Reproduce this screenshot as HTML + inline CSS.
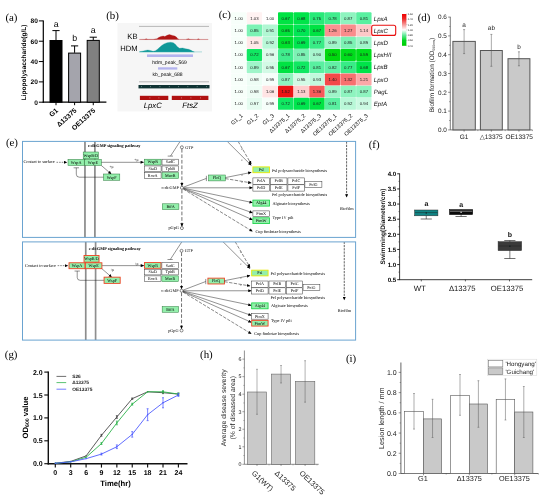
<!DOCTYPE html>
<html lang="en"><head><meta charset="utf-8"><title>Figure</title>
<style>
html,body{margin:0;padding:0;background:#fff;}
body{width:550px;height:502px;overflow:hidden;}
svg{display:block;}
text{text-rendering:geometricPrecision;}
.ss{font-family:"Liberation Sans",Arial,sans-serif;}
.sf{font-family:"Liberation Serif","Times New Roman",serif;}
</style></head><body>
<svg width="550" height="502" viewBox="0 0 550 502">
<rect x="0" y="0" width="550" height="502" fill="#fff"/>
<g id="panel-a">
<text class="sf" x="5.4" y="21.2" font-size="10.9">(a)</text>
<line x1="43.3" y1="20.4" x2="43.3" y2="102.7" stroke="#000" stroke-width="1.2"/>
<line x1="42.699999999999996" y1="102.2" x2="106.4" y2="102.2" stroke="#000" stroke-width="1.2"/>
<line x1="38.9" y1="20.9" x2="43.3" y2="20.9" stroke="#000" stroke-width="1"/>
<text class="ss" x="37.9" y="23.25" font-size="6.6" text-anchor="end" font-weight="bold">80</text>
<line x1="38.9" y1="41.225" x2="43.3" y2="41.225" stroke="#000" stroke-width="1"/>
<text class="ss" x="37.9" y="43.575" font-size="6.6" text-anchor="end" font-weight="bold">60</text>
<line x1="38.9" y1="61.550000000000004" x2="43.3" y2="61.550000000000004" stroke="#000" stroke-width="1"/>
<text class="ss" x="37.9" y="63.900000000000006" font-size="6.6" text-anchor="end" font-weight="bold">40</text>
<line x1="38.9" y1="81.875" x2="43.3" y2="81.875" stroke="#000" stroke-width="1"/>
<text class="ss" x="37.9" y="84.225" font-size="6.6" text-anchor="end" font-weight="bold">20</text>
<line x1="38.9" y1="102.20000000000002" x2="43.3" y2="102.20000000000002" stroke="#000" stroke-width="1"/>
<text class="ss" x="37.9" y="104.55000000000001" font-size="6.6" text-anchor="end" font-weight="bold">0</text>
<line x1="56.0" y1="30.6" x2="56.0" y2="40.2" stroke="#000" stroke-width="1"/>
<line x1="52.4" y1="30.6" x2="59.6" y2="30.6" stroke="#000" stroke-width="1"/>
<rect x="50.00" y="40.50" width="12.00" height="61.70" fill="#000" stroke="#000" stroke-width="1"/>
<line x1="56.0" y1="102.2" x2="56.0" y2="105.2" stroke="#000" stroke-width="1"/>
<line x1="74.6" y1="45.9" x2="74.6" y2="52.8" stroke="#000" stroke-width="1"/>
<line x1="71.0" y1="45.9" x2="78.19999999999999" y2="45.9" stroke="#000" stroke-width="1"/>
<rect x="68.60" y="53.10" width="12.00" height="49.10" fill="#a4a4ac" stroke="#000" stroke-width="1"/>
<line x1="74.6" y1="102.2" x2="74.6" y2="105.2" stroke="#000" stroke-width="1"/>
<line x1="93.25" y1="37.2" x2="93.25" y2="40.1" stroke="#000" stroke-width="1"/>
<line x1="89.65" y1="37.2" x2="96.85" y2="37.2" stroke="#000" stroke-width="1"/>
<rect x="87.20" y="40.40" width="12.10" height="61.80" fill="#808080" stroke="#000" stroke-width="1"/>
<line x1="93.25" y1="102.2" x2="93.25" y2="105.2" stroke="#000" stroke-width="1"/>
<text class="ss" x="56.1" y="26.9" font-size="8.8" text-anchor="middle">a</text>
<text class="ss" x="74.7" y="40.6" font-size="8.8" text-anchor="middle">b</text>
<text class="ss" x="93.3" y="33.0" font-size="8.8" text-anchor="middle">a</text>
<text class="ss" x="58.6" y="111.2" font-size="6.9" text-anchor="end" font-weight="bold" transform="rotate(-42 58.6 111.2)">G1</text>
<text class="ss" x="77.19999999999999" y="111.2" font-size="6.9" text-anchor="end" font-weight="bold" transform="rotate(-42 77.19999999999999 111.2)">&#916;13375</text>
<text class="ss" x="95.8" y="111.2" font-size="6.9" text-anchor="end" font-weight="bold" transform="rotate(-42 95.8 111.2)">OE13375</text>
<text class="ss" x="25.8" y="62.4" font-size="6.55" text-anchor="middle" font-weight="bold" transform="rotate(-90 25.8 62.4)">Lipopolysaccharide(g/L)</text>
</g>
<g id="panel-b">
<text class="sf" x="106.2" y="18.9" font-size="10.9">(b)</text>
<rect x="117.50" y="23.00" width="94.50" height="88.40" fill="#f6f6f6" stroke="none" stroke-width="1"/>
<line x1="139" y1="26.4" x2="209" y2="26.4" stroke="#8c8c8c" stroke-width="0.6"/>
<text class="ss" x="137.5" y="38.5" font-size="7.6" text-anchor="end">KB</text>
<text class="ss" x="137.5" y="51" font-size="7.6" text-anchor="end">HDM</text>
<path d="M139.3,39.55 L139.3,39.4 L144.7,39.3 L146.2,38.7 L147.8,39.3 L153.2,39.3 L154.7,39.0 L157.0,38.7 L158.6,37.4 L160.9,36.5 L163.2,36.0 L164.8,36.4 L167.1,35.3 L169.4,34.5 L171.0,35.0 L172.5,35.4 L174.8,36.0 L176.4,37.1 L177.6,38.4 L179.1,39.4 L185.6,39.4 L188.4,38.7 L190.0,39.3 L196.5,39.4 L198.6,38.8 L199.9,39.4 L208.1,39.4 L208.2,39.55 Z" fill="#b01515" stroke="#b01515" stroke-width="0.25" stroke-linejoin="round"/>
<path d="M139.5,51.95 L139.6,51.7 L142.4,51.2 L145.5,50.4 L147.8,50.0 L150.1,50.4 L153.2,51.3 L155.5,50.7 L157.5,49.2 L159.4,47.6 L161.7,45.5 L164.0,43.9 L167.1,42.7 L170.5,42.2 L173.3,42.8 L175.6,44.4 L177.1,46.6 L179.5,48.3 L182.6,47.9 L185.6,48.7 L188.7,49.3 L191.1,50.3 L193.1,51.5 L194.1,51.8 L194.3,51.95 Z" fill="#109898" stroke="#109898" stroke-width="0.25" stroke-linejoin="round"/>
<line x1="139.3" y1="51.9" x2="202" y2="51.9" stroke="#3cb0b0" stroke-width="0.4"/>
<rect x="147.00" y="54.40" width="46.00" height="2.60" fill="#b4b4ee" stroke="none" stroke-width="1"/>
<text class="ss" x="169.6" y="63.6" font-size="5.0" text-anchor="middle">hdm_peak_569</text>
<rect x="158.00" y="67.30" width="19.30" height="2.30" fill="#b4b4ee" stroke="none" stroke-width="1"/>
<text class="ss" x="167.6" y="76" font-size="5.0" text-anchor="middle">kb_peak_688</text>
<line x1="139" y1="81.8" x2="209" y2="81.8" stroke="#8c8c8c" stroke-width="0.6"/>
<rect x="138.50" y="85.00" width="71.00" height="3.40" fill="#0f3333" stroke="none" stroke-width="1"/>
<rect x="141.00" y="86.30" width="0.70" height="0.80" fill="#9fb8b8" stroke="none" stroke-width="1"/>
<rect x="150.30" y="86.30" width="0.70" height="0.80" fill="#9fb8b8" stroke="none" stroke-width="1"/>
<rect x="159.60" y="86.30" width="0.70" height="0.80" fill="#9fb8b8" stroke="none" stroke-width="1"/>
<rect x="168.90" y="86.30" width="0.70" height="0.80" fill="#9fb8b8" stroke="none" stroke-width="1"/>
<rect x="178.20" y="86.30" width="0.70" height="0.80" fill="#9fb8b8" stroke="none" stroke-width="1"/>
<rect x="187.50" y="86.30" width="0.70" height="0.80" fill="#9fb8b8" stroke="none" stroke-width="1"/>
<rect x="196.80" y="86.30" width="0.70" height="0.80" fill="#9fb8b8" stroke="none" stroke-width="1"/>
<rect x="206.10" y="86.30" width="0.70" height="0.80" fill="#9fb8b8" stroke="none" stroke-width="1"/>
<rect x="139.90" y="95.80" width="28.40" height="4.20" fill="#b01010" stroke="none" stroke-width="1"/>
<rect x="171.80" y="95.80" width="36.60" height="4.20" fill="#b01010" stroke="none" stroke-width="1"/>
<rect x="149.50" y="97.50" width="0.80" height="0.80" fill="#e8a0a0" stroke="none" stroke-width="1"/>
<rect x="158.50" y="97.50" width="0.80" height="0.80" fill="#e8a0a0" stroke="none" stroke-width="1"/>
<rect x="181.00" y="97.50" width="0.80" height="0.80" fill="#e8a0a0" stroke="none" stroke-width="1"/>
<rect x="190.50" y="97.50" width="0.80" height="0.80" fill="#e8a0a0" stroke="none" stroke-width="1"/>
<rect x="200.00" y="97.50" width="0.80" height="0.80" fill="#e8a0a0" stroke="none" stroke-width="1"/>
<text class="ss" x="152.8" y="108.3" font-size="7.8" text-anchor="middle" font-style="italic">LpxC</text>
<text class="ss" x="190" y="108.3" font-size="7.8" text-anchor="middle" font-style="italic">FtsZ</text>
</g>
<g id="panel-c">
<text class="sf" x="218.7" y="18.3" font-size="10.9">(c)</text>
<rect x="231.12" y="12.32" width="15.39" height="11.98" fill="#f7fffa" stroke="none" stroke-width="1" rx="0.9"/>
<text class="ss" x="238.81" y="19.81" font-size="4.3" text-anchor="middle" fill="#1a1a1a">1.00</text>
<rect x="246.75" y="12.32" width="15.39" height="11.98" fill="#fff2f2" stroke="none" stroke-width="1" rx="0.9"/>
<text class="ss" x="254.44" y="19.81" font-size="4.3" text-anchor="middle" fill="#1a1a1a">1.03</text>
<rect x="262.38" y="12.32" width="15.39" height="11.98" fill="#ffffff" stroke="none" stroke-width="1" rx="0.9"/>
<text class="ss" x="270.07" y="19.81" font-size="4.3" text-anchor="middle" fill="#1a1a1a">1.00</text>
<rect x="278.01" y="12.32" width="15.39" height="11.98" fill="#00e343" stroke="none" stroke-width="1" rx="0.9"/>
<text class="ss" x="285.7" y="19.81" font-size="4.3" text-anchor="middle" fill="#1a1a1a">0.67</text>
<rect x="293.64" y="12.32" width="15.39" height="11.98" fill="#00e449" stroke="none" stroke-width="1" rx="0.9"/>
<text class="ss" x="301.33" y="19.81" font-size="4.3" text-anchor="middle" fill="#1a1a1a">0.68</text>
<rect x="309.27" y="12.32" width="15.39" height="11.98" fill="#28ea78" stroke="none" stroke-width="1" rx="0.9"/>
<text class="ss" x="316.96" y="19.81" font-size="4.3" text-anchor="middle" fill="#1a1a1a">0.75</text>
<rect x="324.90" y="12.32" width="15.39" height="11.98" fill="#40ed8d" stroke="none" stroke-width="1" rx="0.9"/>
<text class="ss" x="332.59" y="19.81" font-size="4.3" text-anchor="middle" fill="#1a1a1a">0.78</text>
<rect x="340.53" y="12.32" width="15.39" height="11.98" fill="#8ef4bf" stroke="none" stroke-width="1" rx="0.9"/>
<text class="ss" x="348.23" y="19.81" font-size="4.3" text-anchor="middle" fill="#1a1a1a">0.87</text>
<rect x="356.16" y="12.32" width="15.39" height="11.98" fill="#59f0a0" stroke="none" stroke-width="1" rx="0.9"/>
<text class="ss" x="363.86" y="19.81" font-size="4.3" text-anchor="middle" fill="#1a1a1a">0.81</text>
<text class="ss" x="373.8" y="20.61" font-size="6.1" font-style="italic" fill="#111">LpxA</text>
<rect x="231.12" y="24.54" width="15.39" height="11.98" fill="#f7fffa" stroke="none" stroke-width="1" rx="0.9"/>
<text class="ss" x="238.81" y="32.03" font-size="4.3" text-anchor="middle" fill="#1a1a1a">1.00</text>
<rect x="246.75" y="24.54" width="15.39" height="11.98" fill="#7cf2b4" stroke="none" stroke-width="1" rx="0.9"/>
<text class="ss" x="254.44" y="32.03" font-size="4.3" text-anchor="middle" fill="#1a1a1a">0.85</text>
<rect x="262.38" y="24.54" width="15.39" height="11.98" fill="#b1f7d3" stroke="none" stroke-width="1" rx="0.9"/>
<text class="ss" x="270.07" y="32.03" font-size="4.3" text-anchor="middle" fill="#1a1a1a">0.91</text>
<rect x="278.01" y="24.54" width="15.39" height="11.98" fill="#00e238" stroke="none" stroke-width="1" rx="0.9"/>
<text class="ss" x="285.7" y="32.03" font-size="4.3" text-anchor="middle" fill="#1a1a1a">0.65</text>
<rect x="293.64" y="24.54" width="15.39" height="11.98" fill="#00e654" stroke="none" stroke-width="1" rx="0.9"/>
<text class="ss" x="301.33" y="32.03" font-size="4.3" text-anchor="middle" fill="#1a1a1a">0.70</text>
<rect x="309.27" y="24.54" width="15.39" height="11.98" fill="#00e343" stroke="none" stroke-width="1" rx="0.9"/>
<text class="ss" x="316.96" y="32.03" font-size="4.3" text-anchor="middle" fill="#1a1a1a">0.67</text>
<rect x="324.90" y="24.54" width="15.39" height="11.98" fill="#fa9191" stroke="none" stroke-width="1" rx="0.9"/>
<text class="ss" x="332.59" y="32.03" font-size="4.3" text-anchor="middle" fill="#1a1a1a">1.26</text>
<rect x="340.53" y="24.54" width="15.39" height="11.98" fill="#fa8c8c" stroke="none" stroke-width="1" rx="0.9"/>
<text class="ss" x="348.23" y="32.03" font-size="4.3" text-anchor="middle" fill="#1a1a1a">1.27</text>
<rect x="356.16" y="24.54" width="15.39" height="11.98" fill="#fec8c8" stroke="none" stroke-width="1" rx="0.9"/>
<text class="ss" x="363.86" y="32.03" font-size="4.3" text-anchor="middle" fill="#1a1a1a">1.14</text>
<text class="ss" x="373.8" y="32.83" font-size="6.1" font-style="italic" fill="#111">LpxC</text>
<rect x="231.12" y="36.76" width="15.39" height="11.98" fill="#f7fffa" stroke="none" stroke-width="1" rx="0.9"/>
<text class="ss" x="238.81" y="44.25" font-size="4.3" text-anchor="middle" fill="#1a1a1a">1.00</text>
<rect x="246.75" y="36.76" width="15.39" height="11.98" fill="#ffe8e8" stroke="none" stroke-width="1" rx="0.9"/>
<text class="ss" x="254.44" y="44.25" font-size="4.3" text-anchor="middle" fill="#1a1a1a">1.05</text>
<rect x="262.38" y="36.76" width="15.39" height="11.98" fill="#b9f8d8" stroke="none" stroke-width="1" rx="0.9"/>
<text class="ss" x="270.07" y="44.25" font-size="4.3" text-anchor="middle" fill="#1a1a1a">0.92</text>
<rect x="278.01" y="36.76" width="15.39" height="11.98" fill="#00e02d" stroke="none" stroke-width="1" rx="0.9"/>
<text class="ss" x="285.7" y="44.25" font-size="4.3" text-anchor="middle" fill="#1a1a1a">0.63</text>
<rect x="293.64" y="36.76" width="15.39" height="11.98" fill="#00e54e" stroke="none" stroke-width="1" rx="0.9"/>
<text class="ss" x="301.33" y="44.25" font-size="4.3" text-anchor="middle" fill="#1a1a1a">0.69</text>
<rect x="309.27" y="36.76" width="15.39" height="11.98" fill="#38ec86" stroke="none" stroke-width="1" rx="0.9"/>
<text class="ss" x="316.96" y="44.25" font-size="4.3" text-anchor="middle" fill="#1a1a1a">0.77</text>
<rect x="324.90" y="36.76" width="15.39" height="11.98" fill="#9ff5c9" stroke="none" stroke-width="1" rx="0.9"/>
<text class="ss" x="332.59" y="44.25" font-size="4.3" text-anchor="middle" fill="#1a1a1a">0.89</text>
<rect x="340.53" y="36.76" width="15.39" height="11.98" fill="#7cf2b4" stroke="none" stroke-width="1" rx="0.9"/>
<text class="ss" x="348.23" y="44.25" font-size="4.3" text-anchor="middle" fill="#1a1a1a">0.85</text>
<rect x="356.16" y="36.76" width="15.39" height="11.98" fill="#9ff5c9" stroke="none" stroke-width="1" rx="0.9"/>
<text class="ss" x="363.86" y="44.25" font-size="4.3" text-anchor="middle" fill="#1a1a1a">0.89</text>
<text class="ss" x="373.8" y="45.05" font-size="6.1" font-style="italic" fill="#111">LpxD</text>
<rect x="231.12" y="48.98" width="15.39" height="11.98" fill="#f7fffa" stroke="none" stroke-width="1" rx="0.9"/>
<text class="ss" x="238.81" y="56.47" font-size="4.3" text-anchor="middle" fill="#1a1a1a">1.00</text>
<rect x="246.75" y="48.98" width="15.39" height="11.98" fill="#10e862" stroke="none" stroke-width="1" rx="0.9"/>
<text class="ss" x="254.44" y="56.47" font-size="4.3" text-anchor="middle" fill="#1a1a1a">0.72</text>
<rect x="262.38" y="48.98" width="15.39" height="11.98" fill="#dcfbeb" stroke="none" stroke-width="1" rx="0.9"/>
<text class="ss" x="270.07" y="56.47" font-size="4.3" text-anchor="middle" fill="#1a1a1a">0.96</text>
<rect x="278.01" y="48.98" width="15.39" height="11.98" fill="#40ed8d" stroke="none" stroke-width="1" rx="0.9"/>
<text class="ss" x="285.7" y="56.47" font-size="4.3" text-anchor="middle" fill="#1a1a1a">0.78</text>
<rect x="293.64" y="48.98" width="15.39" height="11.98" fill="#7cf2b4" stroke="none" stroke-width="1" rx="0.9"/>
<text class="ss" x="301.33" y="56.47" font-size="4.3" text-anchor="middle" fill="#1a1a1a">0.85</text>
<rect x="309.27" y="48.98" width="15.39" height="11.98" fill="#a8f6ce" stroke="none" stroke-width="1" rx="0.9"/>
<text class="ss" x="316.96" y="56.47" font-size="4.3" text-anchor="middle" fill="#1a1a1a">0.90</text>
<rect x="324.90" y="48.98" width="15.39" height="11.98" fill="#00d80e" stroke="none" stroke-width="1" rx="0.9"/>
<text class="ss" x="332.59" y="56.47" font-size="4.3" text-anchor="middle" fill="#1a1a1a">0.50</text>
<rect x="340.53" y="48.98" width="15.39" height="11.98" fill="#00dd1c" stroke="none" stroke-width="1" rx="0.9"/>
<text class="ss" x="348.23" y="56.47" font-size="4.3" text-anchor="middle" fill="#1a1a1a">0.60</text>
<rect x="356.16" y="48.98" width="15.39" height="11.98" fill="#00dd1b" stroke="none" stroke-width="1" rx="0.9"/>
<text class="ss" x="363.86" y="56.47" font-size="4.3" text-anchor="middle" fill="#1a1a1a">0.59</text>
<text class="ss" x="373.8" y="57.27" font-size="6.1" font-style="italic" fill="#111">LpxH/I</text>
<rect x="231.12" y="61.20" width="15.39" height="11.98" fill="#f7fffa" stroke="none" stroke-width="1" rx="0.9"/>
<text class="ss" x="238.81" y="68.69" font-size="4.3" text-anchor="middle" fill="#1a1a1a">1.00</text>
<rect x="246.75" y="61.20" width="15.39" height="11.98" fill="#9ff5c9" stroke="none" stroke-width="1" rx="0.9"/>
<text class="ss" x="254.44" y="68.69" font-size="4.3" text-anchor="middle" fill="#1a1a1a">0.89</text>
<rect x="262.38" y="61.20" width="15.39" height="11.98" fill="#d3fae6" stroke="none" stroke-width="1" rx="0.9"/>
<text class="ss" x="270.07" y="68.69" font-size="4.3" text-anchor="middle" fill="#1a1a1a">0.95</text>
<rect x="278.01" y="61.20" width="15.39" height="11.98" fill="#00e343" stroke="none" stroke-width="1" rx="0.9"/>
<text class="ss" x="285.7" y="68.69" font-size="4.3" text-anchor="middle" fill="#1a1a1a">0.67</text>
<rect x="293.64" y="61.20" width="15.39" height="11.98" fill="#10e862" stroke="none" stroke-width="1" rx="0.9"/>
<text class="ss" x="301.33" y="68.69" font-size="4.3" text-anchor="middle" fill="#1a1a1a">0.72</text>
<rect x="309.27" y="61.20" width="15.39" height="11.98" fill="#59f0a0" stroke="none" stroke-width="1" rx="0.9"/>
<text class="ss" x="316.96" y="68.69" font-size="4.3" text-anchor="middle" fill="#1a1a1a">0.81</text>
<rect x="324.90" y="61.20" width="15.39" height="11.98" fill="#62f0a5" stroke="none" stroke-width="1" rx="0.9"/>
<text class="ss" x="332.59" y="68.69" font-size="4.3" text-anchor="middle" fill="#1a1a1a">0.82</text>
<rect x="340.53" y="61.20" width="15.39" height="11.98" fill="#38ec86" stroke="none" stroke-width="1" rx="0.9"/>
<text class="ss" x="348.23" y="68.69" font-size="4.3" text-anchor="middle" fill="#1a1a1a">0.77</text>
<rect x="356.16" y="61.20" width="15.39" height="11.98" fill="#00e449" stroke="none" stroke-width="1" rx="0.9"/>
<text class="ss" x="363.86" y="68.69" font-size="4.3" text-anchor="middle" fill="#1a1a1a">0.68</text>
<text class="ss" x="373.8" y="69.49" font-size="6.1" font-style="italic" fill="#111">LpxB</text>
<rect x="231.12" y="73.42" width="15.39" height="11.98" fill="#f7fffa" stroke="none" stroke-width="1" rx="0.9"/>
<text class="ss" x="238.81" y="80.91" font-size="4.3" text-anchor="middle" fill="#1a1a1a">1.00</text>
<rect x="246.75" y="73.42" width="15.39" height="11.98" fill="#eefdf5" stroke="none" stroke-width="1" rx="0.9"/>
<text class="ss" x="254.44" y="80.91" font-size="4.3" text-anchor="middle" fill="#1a1a1a">0.98</text>
<rect x="262.38" y="73.42" width="15.39" height="11.98" fill="#f6fefa" stroke="none" stroke-width="1" rx="0.9"/>
<text class="ss" x="270.07" y="80.91" font-size="4.3" text-anchor="middle" fill="#1a1a1a">0.99</text>
<rect x="278.01" y="73.42" width="15.39" height="11.98" fill="#8ef4bf" stroke="none" stroke-width="1" rx="0.9"/>
<text class="ss" x="285.7" y="80.91" font-size="4.3" text-anchor="middle" fill="#1a1a1a">0.87</text>
<rect x="293.64" y="73.42" width="15.39" height="11.98" fill="#d3fae6" stroke="none" stroke-width="1" rx="0.9"/>
<text class="ss" x="301.33" y="80.91" font-size="4.3" text-anchor="middle" fill="#1a1a1a">0.95</text>
<rect x="309.27" y="73.42" width="15.39" height="11.98" fill="#c2f9dd" stroke="none" stroke-width="1" rx="0.9"/>
<text class="ss" x="316.96" y="80.91" font-size="4.3" text-anchor="middle" fill="#1a1a1a">0.93</text>
<rect x="324.90" y="73.42" width="15.39" height="11.98" fill="#f34949" stroke="none" stroke-width="1" rx="0.9"/>
<text class="ss" x="332.59" y="80.91" font-size="4.3" text-anchor="middle" fill="#1a1a1a">1.40</text>
<rect x="340.53" y="73.42" width="15.39" height="11.98" fill="#f77070" stroke="none" stroke-width="1" rx="0.9"/>
<text class="ss" x="348.23" y="80.91" font-size="4.3" text-anchor="middle" fill="#1a1a1a">1.32</text>
<rect x="356.16" y="73.42" width="15.39" height="11.98" fill="#fca8a8" stroke="none" stroke-width="1" rx="0.9"/>
<text class="ss" x="363.86" y="80.91" font-size="4.3" text-anchor="middle" fill="#1a1a1a">1.21</text>
<text class="ss" x="373.8" y="81.71" font-size="6.1" font-style="italic" fill="#111">LpxO</text>
<rect x="231.12" y="85.64" width="15.39" height="11.98" fill="#f7fffa" stroke="none" stroke-width="1" rx="0.9"/>
<text class="ss" x="238.81" y="93.13" font-size="4.3" text-anchor="middle" fill="#1a1a1a">1.00</text>
<rect x="246.75" y="85.64" width="15.39" height="11.98" fill="#eefdf5" stroke="none" stroke-width="1" rx="0.9"/>
<text class="ss" x="254.44" y="93.13" font-size="4.3" text-anchor="middle" fill="#1a1a1a">0.98</text>
<rect x="262.38" y="85.64" width="15.39" height="11.98" fill="#ffe4e4" stroke="none" stroke-width="1" rx="0.9"/>
<text class="ss" x="270.07" y="93.13" font-size="4.3" text-anchor="middle" fill="#1a1a1a">1.06</text>
<rect x="278.01" y="85.64" width="15.39" height="11.98" fill="#ec1414" stroke="none" stroke-width="1" rx="0.9"/>
<text class="ss" x="285.7" y="93.13" font-size="4.3" text-anchor="middle" fill="#1a1a1a">1.52</text>
<rect x="293.64" y="85.64" width="15.39" height="11.98" fill="#fecdcd" stroke="none" stroke-width="1" rx="0.9"/>
<text class="ss" x="301.33" y="93.13" font-size="4.3" text-anchor="middle" fill="#1a1a1a">1.13</text>
<rect x="309.27" y="85.64" width="15.39" height="11.98" fill="#f55a5a" stroke="none" stroke-width="1" rx="0.9"/>
<text class="ss" x="316.96" y="93.13" font-size="4.3" text-anchor="middle" fill="#1a1a1a">1.36</text>
<rect x="324.90" y="85.64" width="15.39" height="11.98" fill="#9ff5c9" stroke="none" stroke-width="1" rx="0.9"/>
<text class="ss" x="332.59" y="93.13" font-size="4.3" text-anchor="middle" fill="#1a1a1a">0.89</text>
<rect x="340.53" y="85.64" width="15.39" height="11.98" fill="#8ef4bf" stroke="none" stroke-width="1" rx="0.9"/>
<text class="ss" x="348.23" y="93.13" font-size="4.3" text-anchor="middle" fill="#1a1a1a">0.87</text>
<rect x="356.16" y="85.64" width="15.39" height="11.98" fill="#8ef4bf" stroke="none" stroke-width="1" rx="0.9"/>
<text class="ss" x="363.86" y="93.13" font-size="4.3" text-anchor="middle" fill="#1a1a1a">0.87</text>
<text class="ss" x="373.8" y="93.93" font-size="6.1" font-style="italic" fill="#111">PagL</text>
<rect x="231.12" y="97.86" width="15.39" height="11.98" fill="#f7fffa" stroke="none" stroke-width="1" rx="0.9"/>
<text class="ss" x="238.81" y="105.35" font-size="4.3" text-anchor="middle" fill="#1a1a1a">1.00</text>
<rect x="246.75" y="97.86" width="15.39" height="11.98" fill="#e5fcf0" stroke="none" stroke-width="1" rx="0.9"/>
<text class="ss" x="254.44" y="105.35" font-size="4.3" text-anchor="middle" fill="#1a1a1a">0.97</text>
<rect x="262.38" y="97.86" width="15.39" height="11.98" fill="#f6fefa" stroke="none" stroke-width="1" rx="0.9"/>
<text class="ss" x="270.07" y="105.35" font-size="4.3" text-anchor="middle" fill="#1a1a1a">0.99</text>
<rect x="278.01" y="97.86" width="15.39" height="11.98" fill="#10e862" stroke="none" stroke-width="1" rx="0.9"/>
<text class="ss" x="285.7" y="105.35" font-size="4.3" text-anchor="middle" fill="#1a1a1a">0.72</text>
<rect x="293.64" y="97.86" width="15.39" height="11.98" fill="#00e54e" stroke="none" stroke-width="1" rx="0.9"/>
<text class="ss" x="301.33" y="105.35" font-size="4.3" text-anchor="middle" fill="#1a1a1a">0.69</text>
<rect x="309.27" y="97.86" width="15.39" height="11.98" fill="#00e343" stroke="none" stroke-width="1" rx="0.9"/>
<text class="ss" x="316.96" y="105.35" font-size="4.3" text-anchor="middle" fill="#1a1a1a">0.67</text>
<rect x="324.90" y="97.86" width="15.39" height="11.98" fill="#59f0a0" stroke="none" stroke-width="1" rx="0.9"/>
<text class="ss" x="332.59" y="105.35" font-size="4.3" text-anchor="middle" fill="#1a1a1a">0.81</text>
<rect x="340.53" y="97.86" width="15.39" height="11.98" fill="#b9f8d8" stroke="none" stroke-width="1" rx="0.9"/>
<text class="ss" x="348.23" y="105.35" font-size="4.3" text-anchor="middle" fill="#1a1a1a">0.92</text>
<rect x="356.16" y="97.86" width="15.39" height="11.98" fill="#cbfae2" stroke="none" stroke-width="1" rx="0.9"/>
<text class="ss" x="363.86" y="105.35" font-size="4.3" text-anchor="middle" fill="#1a1a1a">0.94</text>
<text class="ss" x="373.8" y="106.15" font-size="6.1" font-style="italic" fill="#111">EptA</text>
<rect x="371.7" y="25.3" width="24" height="10.1" rx="2" fill="none" stroke="#e81010" stroke-width="1.1"/>
<text class="ss" x="243.31" y="116.2" font-size="5.6" text-anchor="end" transform="rotate(-42 243.31 116.2)">G1_1</text>
<text class="ss" x="258.94" y="116.2" font-size="5.6" text-anchor="end" transform="rotate(-42 258.94 116.2)">G1_2</text>
<text class="ss" x="274.57" y="116.2" font-size="5.6" text-anchor="end" transform="rotate(-42 274.57 116.2)">G1_3</text>
<text class="ss" x="290.2" y="116.2" font-size="5.6" text-anchor="end" transform="rotate(-42 290.2 116.2)">&#916;13375_1</text>
<text class="ss" x="305.83" y="116.2" font-size="5.6" text-anchor="end" transform="rotate(-42 305.83 116.2)">&#916;13375_2</text>
<text class="ss" x="321.46" y="116.2" font-size="5.6" text-anchor="end" transform="rotate(-42 321.46 116.2)">&#916;13375_3</text>
<text class="ss" x="337.09" y="116.2" font-size="5.6" text-anchor="end" transform="rotate(-42 337.09 116.2)">OE13375_1</text>
<text class="ss" x="352.73" y="116.2" font-size="5.6" text-anchor="end" transform="rotate(-42 352.73 116.2)">OE13375_2</text>
<text class="ss" x="368.36" y="116.2" font-size="5.6" text-anchor="end" transform="rotate(-42 368.36 116.2)">OE13375_3</text>
<defs><linearGradient id="cb" x1="0" y1="0" x2="0" y2="1"><stop offset="0" stop-color="#f00000"/><stop offset="0.15" stop-color="#ee2828"/><stop offset="0.5" stop-color="#ffffff"/><stop offset="0.67" stop-color="#60ea98"/><stop offset="0.83" stop-color="#00d820"/><stop offset="1" stop-color="#00cc00"/></linearGradient></defs>
<rect x="402.00" y="14.00" width="4.40" height="31.80" fill="url(#cb)" stroke="none" stroke-width="1"/>
<line x1="406.4" y1="14.0" x2="407.4" y2="14.0" stroke="#555" stroke-width="0.3"/>
<text class="ss" x="407.9" y="14.9" font-size="2.6" fill="#111">1.60</text>
<line x1="406.4" y1="19.3" x2="407.4" y2="19.3" stroke="#555" stroke-width="0.3"/>
<text class="ss" x="407.9" y="20.2" font-size="2.6" fill="#111">1.40</text>
<line x1="406.4" y1="24.6" x2="407.4" y2="24.6" stroke="#555" stroke-width="0.3"/>
<text class="ss" x="407.9" y="25.5" font-size="2.6" fill="#111">1.20</text>
<line x1="406.4" y1="29.9" x2="407.4" y2="29.9" stroke="#555" stroke-width="0.3"/>
<text class="ss" x="407.9" y="30.8" font-size="2.6" fill="#111">1.00</text>
<line x1="406.4" y1="35.2" x2="407.4" y2="35.2" stroke="#555" stroke-width="0.3"/>
<text class="ss" x="407.9" y="36.1" font-size="2.6" fill="#111">0.80</text>
<line x1="406.4" y1="40.5" x2="407.4" y2="40.5" stroke="#555" stroke-width="0.3"/>
<text class="ss" x="407.9" y="41.4" font-size="2.6" fill="#111">0.60</text>
<line x1="406.4" y1="45.8" x2="407.4" y2="45.8" stroke="#555" stroke-width="0.3"/>
<text class="ss" x="407.9" y="46.7" font-size="2.6" fill="#111">0.40</text>
</g>
<g id="panel-d">
<text class="sf" x="417.7" y="21.0" font-size="10.9">(d)</text>
<line x1="450.3" y1="16.8" x2="450.3" y2="129.9" stroke="#444" stroke-width="0.7"/>
<line x1="450.3" y1="129.9" x2="532.4" y2="129.9" stroke="#444" stroke-width="0.7"/>
<line x1="448.1" y1="129.9" x2="450.3" y2="129.9" stroke="#444" stroke-width="0.6"/>
<text class="ss" x="446.90000000000003" y="132.2" font-size="6.4" text-anchor="end" fill="#222">0.0</text>
<line x1="449.1" y1="120.5" x2="450.3" y2="120.5" stroke="#444" stroke-width="0.5"/>
<line x1="448.1" y1="111.1" x2="450.3" y2="111.1" stroke="#444" stroke-width="0.6"/>
<text class="ss" x="446.90000000000003" y="113.4" font-size="6.4" text-anchor="end" fill="#222">0.1</text>
<line x1="449.1" y1="101.7" x2="450.3" y2="101.7" stroke="#444" stroke-width="0.5"/>
<line x1="448.1" y1="92.3" x2="450.3" y2="92.3" stroke="#444" stroke-width="0.6"/>
<text class="ss" x="446.90000000000003" y="94.6" font-size="6.4" text-anchor="end" fill="#222">0.2</text>
<line x1="449.1" y1="82.9" x2="450.3" y2="82.9" stroke="#444" stroke-width="0.5"/>
<line x1="448.1" y1="73.5" x2="450.3" y2="73.5" stroke="#444" stroke-width="0.6"/>
<text class="ss" x="446.90000000000003" y="75.8" font-size="6.4" text-anchor="end" fill="#222">0.3</text>
<line x1="449.1" y1="64.1" x2="450.3" y2="64.1" stroke="#444" stroke-width="0.5"/>
<line x1="448.1" y1="54.7" x2="450.3" y2="54.7" stroke="#444" stroke-width="0.6"/>
<text class="ss" x="446.90000000000003" y="57.0" font-size="6.4" text-anchor="end" fill="#222">0.4</text>
<line x1="449.1" y1="45.3" x2="450.3" y2="45.3" stroke="#444" stroke-width="0.5"/>
<line x1="448.1" y1="35.9" x2="450.3" y2="35.9" stroke="#444" stroke-width="0.6"/>
<text class="ss" x="446.90000000000003" y="38.2" font-size="6.4" text-anchor="end" fill="#222">0.5</text>
<line x1="449.1" y1="26.5" x2="450.3" y2="26.5" stroke="#444" stroke-width="0.5"/>
<line x1="448.1" y1="17.1" x2="450.3" y2="17.1" stroke="#444" stroke-width="0.6"/>
<text class="ss" x="446.90000000000003" y="19.4" font-size="6.4" text-anchor="end" fill="#222">0.6</text>
<rect x="452.90" y="41.40" width="22.40" height="88.50" fill="#c9c9c9" stroke="#555" stroke-width="1.0"/>
<line x1="464.1" y1="29.6" x2="464.1" y2="53.6" stroke="#555" stroke-width="0.5"/>
<line x1="463.1" y1="29.6" x2="465.1" y2="29.6" stroke="#555" stroke-width="0.5"/>
<line x1="463.1" y1="53.6" x2="465.1" y2="53.6" stroke="#555" stroke-width="0.5"/>
<line x1="464.1" y1="129.9" x2="464.1" y2="131.70000000000002" stroke="#444" stroke-width="0.6"/>
<rect x="480.40" y="50.50" width="21.90" height="79.40" fill="#c9c9c9" stroke="#555" stroke-width="1.0"/>
<line x1="491.35" y1="34.4" x2="491.35" y2="66.3" stroke="#555" stroke-width="0.5"/>
<line x1="490.35" y1="34.4" x2="492.35" y2="34.4" stroke="#555" stroke-width="0.5"/>
<line x1="490.35" y1="66.3" x2="492.35" y2="66.3" stroke="#555" stroke-width="0.5"/>
<line x1="491.35" y1="129.9" x2="491.35" y2="131.70000000000002" stroke="#444" stroke-width="0.6"/>
<rect x="508.00" y="58.70" width="21.90" height="71.20" fill="#c9c9c9" stroke="#555" stroke-width="1.0"/>
<line x1="518.95" y1="51.8" x2="518.95" y2="65.8" stroke="#555" stroke-width="0.5"/>
<line x1="517.95" y1="51.8" x2="519.95" y2="51.8" stroke="#555" stroke-width="0.5"/>
<line x1="517.95" y1="65.8" x2="519.95" y2="65.8" stroke="#555" stroke-width="0.5"/>
<line x1="518.95" y1="129.9" x2="518.95" y2="131.70000000000002" stroke="#444" stroke-width="0.6"/>
<line x1="477.85" y1="129.9" x2="477.85" y2="131.1" stroke="#444" stroke-width="0.5"/>
<line x1="505.15" y1="129.9" x2="505.15" y2="131.1" stroke="#444" stroke-width="0.5"/>
<line x1="532.4" y1="129.9" x2="532.4" y2="131.1" stroke="#444" stroke-width="0.5"/>
<text class="ss" x="464.1" y="26.7" font-size="6.4" text-anchor="middle" fill="#222">a</text>
<text class="ss" x="491.4" y="29.7" font-size="6.4" text-anchor="middle" fill="#222">ab</text>
<text class="ss" x="519" y="48.7" font-size="6.4" text-anchor="middle" fill="#222">b</text>
<text class="ss" x="464.1" y="138.8" font-size="6.5" text-anchor="middle" fill="#222">G1</text>
<text class="ss" x="491.2" y="138.8" font-size="6.5" text-anchor="middle" fill="#222">&#9651;13375</text>
<text class="ss" x="519.2" y="138.8" font-size="6.5" text-anchor="middle" fill="#222">OE13375</text>
<text class="ss" x="433.8" y="75.0" font-size="6.45" text-anchor="middle" fill="#222" transform="rotate(-90 433.8 75.0)">Biofilm formation (OD<tspan font-size="3.5" dy="1.3">590nm</tspan><tspan dy="-1.3">)</tspan></text>
</g>
<g id="panel-e">
<text class="sf" x="5.9" y="145.6" font-size="10.9">(e)</text>
<defs><marker id="ah" viewBox="0 0 10 10" refX="9" refY="5" markerWidth="3.9" markerHeight="3.4" orient="auto" markerUnits="userSpaceOnUse"><path d="M0,0.5 L10,5 L0,9.5 Z" fill="#000"/></marker></defs>
<g>
<line x1="84.6" y1="141.4" x2="84.6" y2="237.4" stroke="#333" stroke-width="0.52"/>
<line x1="85.35" y1="141.4" x2="85.35" y2="237.4" stroke="#333" stroke-width="0.52"/>
<line x1="94.55" y1="141.4" x2="94.55" y2="237.4" stroke="#333" stroke-width="0.52"/>
<line x1="95.3" y1="141.4" x2="95.3" y2="237.4" stroke="#333" stroke-width="0.52"/>
<text class="sf" x="88" y="146.6" font-size="4.3" font-weight="bold">c-di-GMP signaling pathway</text>
<text class="sf" x="23.4" y="163.4" font-size="4.3">Contact to surface</text>
<path d="M56.5,162.3 L66.9,162.3" stroke="#222" stroke-width="0.55" fill="none" stroke-dasharray="1.6 1" marker-end="url(#ah)"/>
<path d="M101,162.3 L143.6,162.3" stroke="#1a1a1a" stroke-width="0.48" fill="none" marker-end="url(#ah)"/>
<text class="sf" x="134.2" y="161.4" font-size="3.9">+p</text>
<path d="M101,165.2 L111.2,174" stroke="#1a1a1a" stroke-width="0.48" fill="none" marker-end="url(#ah)"/>
<text class="sf" x="109.4" y="168.2" font-size="3.9">+p</text>
<path d="M103.8,177.2 L79.3,177.2 Q76.3,177.2 76.3,174.2 L76.3,167.8" stroke="#1a1a1a" stroke-width="0.48" fill="none"/>
<path d="M73.6,167.8 L79,167.8" stroke="#1a1a1a" stroke-width="0.48" fill="none"/>
<rect x="83.20" y="152.00" width="15.20" height="6.80" fill="#93efab" stroke="#2c7a3c" stroke-width="0.5"/>
<text class="sf" x="90.8" y="156.75" font-size="4.2" text-anchor="middle">WspB/D</text>
<rect x="68.00" y="159.40" width="16.20" height="6.00" fill="#93efab" stroke="#2c7a3c" stroke-width="0.5"/>
<text class="sf" x="76.1" y="163.75" font-size="4.2" text-anchor="middle">WspA</text>
<rect x="84.50" y="159.40" width="16.80" height="6.00" fill="#93efab" stroke="#2c7a3c" stroke-width="0.5"/>
<text class="sf" x="92.9" y="163.75" font-size="4.2" text-anchor="middle">WspE</text>
<rect x="103.50" y="174.00" width="16.30" height="6.30" fill="#93efab" stroke="#2c7a3c" stroke-width="0.5"/>
<text class="sf" x="111.65" y="178.5" font-size="4.2" text-anchor="middle">WspF</text>
<rect x="144.40" y="159.20" width="16.70" height="5.80" fill="#93efab" stroke="#2c7a3c" stroke-width="0.5"/>
<text class="sf" x="152.75" y="163.45" font-size="4.2" text-anchor="middle">WspR</text>
<rect x="162.00" y="159.20" width="16.70" height="5.80" fill="#ffffff" stroke="#333" stroke-width="0.5"/>
<text class="sf" x="170.35" y="163.45" font-size="4.2" text-anchor="middle">SadC</text>
<rect x="144.40" y="165.95" width="16.70" height="5.75" fill="#ffffff" stroke="#333" stroke-width="0.5"/>
<text class="sf" x="152.75" y="170.17" font-size="4.2" text-anchor="middle">SiaD</text>
<rect x="162.00" y="165.95" width="16.70" height="5.75" fill="#ffffff" stroke="#333" stroke-width="0.5"/>
<text class="sf" x="170.35" y="170.17" font-size="4.2" text-anchor="middle">TpbB</text>
<rect x="144.40" y="172.70" width="16.70" height="5.80" fill="#ffffff" stroke="#333" stroke-width="0.5"/>
<text class="sf" x="152.75" y="176.95" font-size="4.2" text-anchor="middle">RoeA</text>
<rect x="162.00" y="172.70" width="16.70" height="5.80" fill="#93efab" stroke="#2c7a3c" stroke-width="0.5"/>
<text class="sf" x="170.35" y="176.95" font-size="4.2" text-anchor="middle">MucR</text>
<path d="M180.1,141.4 L170.5,156.1" stroke="#1a1a1a" stroke-width="0.48" fill="none"/>
<path d="M167.7,156.1 L173.0,156.1" stroke="#1a1a1a" stroke-width="0.48" fill="none"/>
<path d="M181.9,148.9 L181.9,186.0" stroke="#333" stroke-width="0.7" fill="none" stroke-dasharray="3.7 1.8" marker-end="url(#ah)"/>
<path d="M181.9,189.6 L181.9,226.3" stroke="#333" stroke-width="0.7" fill="none" stroke-dasharray="3.7 1.8" marker-end="url(#ah)"/>
<text class="sf" x="185.2" y="148.7" font-size="4.3">GTP</text>
<text class="sf" x="178.9" y="189.1" font-size="4.3" text-anchor="end">c-di-GMP</text>
<text class="sf" x="178.9" y="229.3" font-size="4.3" text-anchor="end">pGpG</text>
<rect x="162.30" y="203.80" width="16.60" height="5.80" fill="#93efab" stroke="#2c7a3c" stroke-width="0.5"/>
<text class="sf" x="170.6" y="208.05" font-size="4.2" text-anchor="middle">BifA</text>
<path d="M183.4,187.2 L206.4,178.4" stroke="#1a1a1a" stroke-width="0.48" fill="none"/>
<path d="M206.4,175.8 L206.4,181.1" stroke="#1a1a1a" stroke-width="0.48" fill="none"/>
<rect x="208.60" y="175.00" width="16.70" height="5.90" fill="#93efab" stroke="#2c7a3c" stroke-width="0.5"/>
<text class="sf" x="216.95" y="179.3" font-size="4.2" text-anchor="middle">FleQ</text>
<path d="M225.3,177.6 L251.2,172.4" stroke="#1a1a1a" stroke-width="0.48" fill="none" marker-end="url(#ah)"/>
<path d="M225.3,178.6 L251.2,182.9" stroke="#222" stroke-width="0.55" fill="none" stroke-dasharray="3.4 1.4" marker-end="url(#ah)"/>
<text class="sf" x="241.5" y="175.8" font-size="3.0">e</text>
<text class="sf" x="241.5" y="182.6" font-size="3.0">e</text>
<path d="M227.2,141.4 L251.2,165.3" stroke="#1a1a1a" stroke-width="0.48" fill="none" marker-end="url(#ah)"/>
<path d="M238.14,141.4 L251.2,164" stroke="#222" stroke-width="0.55" fill="none" stroke-dasharray="3.4 1.4" marker-end="url(#ah)"/>
<text class="sf" x="241.3" y="149.5" font-size="3.0">e</text>
<text class="sf" x="241.3" y="161.3" font-size="3.0">e</text>
<path d="M183.6,187.8 L252.5,187.8" stroke="#1a1a1a" stroke-width="0.48" fill="none" marker-end="url(#ah)"/>
<path d="M183.6,188.2 L252.5,202.6" stroke="#1a1a1a" stroke-width="0.48" fill="none" marker-end="url(#ah)"/>
<path d="M183.5,188.5 L252.5,212.8" stroke="#1a1a1a" stroke-width="0.48" fill="none" marker-end="url(#ah)"/>
<path d="M183.4,188.8 L252.5,219.8" stroke="#1a1a1a" stroke-width="0.48" fill="none" marker-end="url(#ah)"/>
<path d="M183.2,189.0 L252.5,231.4" stroke="#222" stroke-width="0.55" fill="none" stroke-dasharray="3.4 1.4" marker-end="url(#ah)"/>
<rect x="252.90" y="166.90" width="16.60" height="5.80" fill="#93efab" stroke="#e8e800" stroke-width="0.9"/>
<text class="sf" x="261.2" y="171.15" font-size="4.2" text-anchor="middle">Psl</text>
<text class="sf" x="271.9" y="171.7" font-size="4.35">Psl polysaccharide biosynthesis</text>
<rect x="252.90" y="177.90" width="16.60" height="6.40" fill="#ffffff" stroke="#333" stroke-width="0.5"/>
<text class="sf" x="261.2" y="182.45" font-size="4.2" text-anchor="middle">PelA</text>
<rect x="270.40" y="177.90" width="16.60" height="6.40" fill="#ffffff" stroke="#333" stroke-width="0.5"/>
<text class="sf" x="278.7" y="182.45" font-size="4.2" text-anchor="middle">PelB</text>
<rect x="287.90" y="177.90" width="16.60" height="6.40" fill="#ffffff" stroke="#333" stroke-width="0.5"/>
<text class="sf" x="296.2" y="182.45" font-size="4.2" text-anchor="middle">PelC</text>
<rect x="252.90" y="184.80" width="16.60" height="6.30" fill="#ffffff" stroke="#333" stroke-width="0.5"/>
<text class="sf" x="261.2" y="189.3" font-size="4.2" text-anchor="middle">PelD</text>
<rect x="270.40" y="184.80" width="16.60" height="6.30" fill="#ffffff" stroke="#333" stroke-width="0.5"/>
<text class="sf" x="278.7" y="189.3" font-size="4.2" text-anchor="middle">PelE</text>
<rect x="287.90" y="184.80" width="16.60" height="6.30" fill="#ffffff" stroke="#333" stroke-width="0.5"/>
<text class="sf" x="296.2" y="189.3" font-size="4.2" text-anchor="middle">PelF</text>
<rect x="304.90" y="181.40" width="17.00" height="6.30" fill="#ffffff" stroke="#333" stroke-width="0.5"/>
<text class="sf" x="313.4" y="185.9" font-size="4.2" text-anchor="middle">PelG</text>
<text class="sf" x="271.9" y="196.3" font-size="4.35">Pel polysaccharide biosynthesis</text>
<rect x="252.90" y="200.10" width="16.60" height="6.00" fill="#93efab" stroke="#10d040" stroke-width="0.8"/>
<text class="sf" x="261.2" y="204.45" font-size="4.2" text-anchor="middle">Alg44</text>
<text class="sf" x="272.5" y="204.7" font-size="4.3">Alginate biosynthesis</text>
<rect x="252.90" y="210.90" width="16.60" height="5.70" fill="#ffffff" stroke="#333" stroke-width="0.5"/>
<text class="sf" x="261.2" y="215.1" font-size="4.2" text-anchor="middle">PimX</text>
<rect x="252.90" y="217.80" width="16.60" height="5.80" fill="#93efab" stroke="#10d040" stroke-width="0.8"/>
<text class="sf" x="261.2" y="222.05" font-size="4.2" text-anchor="middle">PimW</text>
<text class="sf" x="272.5" y="219.1" font-size="4.3">Type IV pili</text>
<text class="sf" x="255.5" y="233.1" font-size="4.3">Cup fimbriae biosynthesis</text>
<circle cx="181.9" cy="147.3" r="1.5" fill="#fff" stroke="#111" stroke-width="0.5"/>
<circle cx="181.9" cy="187.8" r="1.5" fill="#fff" stroke="#111" stroke-width="0.5"/>
<circle cx="181.9" cy="228.1" r="1.5" fill="#fff" stroke="#111" stroke-width="0.5"/>
<path d="M346.6,141.4 L346.6,197.2" stroke="#3a3a3a" stroke-width="0.8" fill="none" stroke-dasharray="2.3 1" marker-end="url(#ah)"/>
<text class="sf" x="346.8" y="209.7" font-size="4.3" text-anchor="middle">Biofilm</text>
</g>
<rect x="22.50" y="141.40" width="333.10" height="96.00" fill="none" stroke="#6aa3d0" stroke-width="1.0"/>
<svg x="22" y="241.9" width="334" height="98.2" viewBox="22 241.9 334 98.2">
<g transform="translate(1.82 105.6) scale(0.988 0.986)">
<line x1="84.6" y1="138.0" x2="84.6" y2="238.3" stroke="#333" stroke-width="0.52"/>
<line x1="85.35" y1="138.0" x2="85.35" y2="238.3" stroke="#333" stroke-width="0.52"/>
<line x1="94.55" y1="138.0" x2="94.55" y2="238.3" stroke="#333" stroke-width="0.52"/>
<line x1="95.3" y1="138.0" x2="95.3" y2="238.3" stroke="#333" stroke-width="0.52"/>
<text class="sf" x="88" y="146.6" font-size="4.3" font-weight="bold">c-di-GMP signaling pathway</text>
<text class="sf" x="23.4" y="163.4" font-size="4.3">Contact to surface</text>
<path d="M56.5,162.3 L66.9,162.3" stroke="#222" stroke-width="0.55" fill="none" stroke-dasharray="1.6 1" marker-end="url(#ah)"/>
<path d="M101,162.3 L143.6,162.3" stroke="#1a1a1a" stroke-width="0.48" fill="none" marker-end="url(#ah)"/>
<text class="sf" x="134.2" y="161.4" font-size="3.9">+p</text>
<path d="M101,165.2 L111.2,174" stroke="#1a1a1a" stroke-width="0.48" fill="none" marker-end="url(#ah)"/>
<text class="sf" x="109.4" y="168.2" font-size="3.9">+p</text>
<path d="M103.8,177.2 L79.3,177.2 Q76.3,177.2 76.3,174.2 L76.3,167.8" stroke="#1a1a1a" stroke-width="0.48" fill="none"/>
<path d="M73.6,167.8 L79,167.8" stroke="#1a1a1a" stroke-width="0.48" fill="none"/>
<rect x="83.20" y="152.00" width="15.20" height="6.80" fill="#93efab" stroke="#f04020" stroke-width="0.9"/>
<text class="sf" x="90.8" y="156.75" font-size="4.2" text-anchor="middle">WspB/D</text>
<rect x="68.00" y="159.40" width="16.20" height="6.00" fill="#93efab" stroke="#f04020" stroke-width="0.9"/>
<text class="sf" x="76.1" y="163.75" font-size="4.2" text-anchor="middle">WspA</text>
<rect x="84.50" y="159.40" width="16.80" height="6.00" fill="#93efab" stroke="#f04020" stroke-width="0.9"/>
<text class="sf" x="92.9" y="163.75" font-size="4.2" text-anchor="middle">WspE</text>
<rect x="103.50" y="174.00" width="16.30" height="6.30" fill="#93efab" stroke="#f04020" stroke-width="0.9"/>
<text class="sf" x="111.65" y="178.5" font-size="4.2" text-anchor="middle">WspF</text>
<rect x="144.40" y="159.20" width="16.70" height="5.80" fill="#93efab" stroke="#f04020" stroke-width="0.9"/>
<text class="sf" x="152.75" y="163.45" font-size="4.2" text-anchor="middle">WspR</text>
<rect x="162.00" y="159.20" width="16.70" height="5.80" fill="#ffffff" stroke="#333" stroke-width="0.5"/>
<text class="sf" x="170.35" y="163.45" font-size="4.2" text-anchor="middle">SadC</text>
<rect x="144.40" y="165.95" width="16.70" height="5.75" fill="#ffffff" stroke="#333" stroke-width="0.5"/>
<text class="sf" x="152.75" y="170.17" font-size="4.2" text-anchor="middle">SiaD</text>
<rect x="162.00" y="165.95" width="16.70" height="5.75" fill="#ffffff" stroke="#333" stroke-width="0.5"/>
<text class="sf" x="170.35" y="170.17" font-size="4.2" text-anchor="middle">TpbB</text>
<rect x="144.40" y="172.70" width="16.70" height="5.80" fill="#ffffff" stroke="#333" stroke-width="0.5"/>
<text class="sf" x="152.75" y="176.95" font-size="4.2" text-anchor="middle">RoeA</text>
<rect x="162.00" y="172.70" width="16.70" height="5.80" fill="#93efab" stroke="#2c7a3c" stroke-width="0.5"/>
<text class="sf" x="170.35" y="176.95" font-size="4.2" text-anchor="middle">MucR</text>
<path d="M182.32,138.0 L170.5,156.1" stroke="#1a1a1a" stroke-width="0.48" fill="none"/>
<path d="M167.7,156.1 L173.0,156.1" stroke="#1a1a1a" stroke-width="0.48" fill="none"/>
<path d="M181.9,148.9 L181.9,186.0" stroke="#333" stroke-width="0.7" fill="none" stroke-dasharray="3.7 1.8" marker-end="url(#ah)"/>
<path d="M181.9,189.6 L181.9,226.3" stroke="#333" stroke-width="0.7" fill="none" stroke-dasharray="3.7 1.8" marker-end="url(#ah)"/>
<text class="sf" x="185.2" y="148.7" font-size="4.3">GTP</text>
<text class="sf" x="178.9" y="189.1" font-size="4.3" text-anchor="end">c-di-GMP</text>
<text class="sf" x="178.9" y="229.3" font-size="4.3" text-anchor="end">pGpG</text>
<rect x="162.30" y="203.80" width="16.60" height="5.80" fill="#93efab" stroke="#2c7a3c" stroke-width="0.5"/>
<text class="sf" x="170.6" y="208.05" font-size="4.2" text-anchor="middle">BifA</text>
<path d="M183.4,187.2 L206.4,178.4" stroke="#1a1a1a" stroke-width="0.48" fill="none"/>
<path d="M206.4,175.8 L206.4,181.1" stroke="#1a1a1a" stroke-width="0.48" fill="none"/>
<rect x="208.60" y="175.00" width="16.70" height="5.90" fill="#93efab" stroke="#f04020" stroke-width="0.9"/>
<text class="sf" x="216.95" y="179.3" font-size="4.2" text-anchor="middle">FleQ</text>
<path d="M225.3,177.6 L251.2,172.4" stroke="#1a1a1a" stroke-width="0.48" fill="none" marker-end="url(#ah)"/>
<path d="M225.3,178.6 L251.2,182.9" stroke="#222" stroke-width="0.55" fill="none" stroke-dasharray="3.4 1.4" marker-end="url(#ah)"/>
<text class="sf" x="241.5" y="175.8" font-size="3.0">e</text>
<text class="sf" x="241.5" y="182.6" font-size="3.0">e</text>
<path d="M223.79,138.0 L251.2,165.3" stroke="#1a1a1a" stroke-width="0.48" fill="none" marker-end="url(#ah)"/>
<path d="M236.18,138.0 L251.2,164" stroke="#222" stroke-width="0.55" fill="none" stroke-dasharray="3.4 1.4" marker-end="url(#ah)"/>
<text class="sf" x="241.3" y="149.5" font-size="3.0">e</text>
<text class="sf" x="241.3" y="161.3" font-size="3.0">e</text>
<path d="M183.6,187.8 L252.5,187.8" stroke="#1a1a1a" stroke-width="0.48" fill="none" marker-end="url(#ah)"/>
<path d="M183.6,188.2 L252.5,202.6" stroke="#1a1a1a" stroke-width="0.48" fill="none" marker-end="url(#ah)"/>
<path d="M183.5,188.5 L252.5,212.8" stroke="#1a1a1a" stroke-width="0.48" fill="none" marker-end="url(#ah)"/>
<path d="M183.4,188.8 L252.5,219.8" stroke="#1a1a1a" stroke-width="0.48" fill="none" marker-end="url(#ah)"/>
<path d="M183.2,189.0 L252.5,231.4" stroke="#222" stroke-width="0.55" fill="none" stroke-dasharray="3.4 1.4" marker-end="url(#ah)"/>
<rect x="252.90" y="166.90" width="16.60" height="5.80" fill="#93efab" stroke="#e8e800" stroke-width="0.9"/>
<text class="sf" x="261.2" y="171.15" font-size="4.2" text-anchor="middle">Psl</text>
<text class="sf" x="271.9" y="171.7" font-size="4.35">Psl polysaccharide biosynthesis</text>
<rect x="252.90" y="177.90" width="16.60" height="6.40" fill="#ffffff" stroke="#333" stroke-width="0.5"/>
<text class="sf" x="261.2" y="182.45" font-size="4.2" text-anchor="middle">PelA</text>
<rect x="270.40" y="177.90" width="16.60" height="6.40" fill="#ffffff" stroke="#333" stroke-width="0.5"/>
<text class="sf" x="278.7" y="182.45" font-size="4.2" text-anchor="middle">PelB</text>
<rect x="287.90" y="177.90" width="16.60" height="6.40" fill="#ffffff" stroke="#333" stroke-width="0.5"/>
<text class="sf" x="296.2" y="182.45" font-size="4.2" text-anchor="middle">PelC</text>
<rect x="252.90" y="184.80" width="16.60" height="6.30" fill="#ffffff" stroke="#333" stroke-width="0.5"/>
<text class="sf" x="261.2" y="189.3" font-size="4.2" text-anchor="middle">PelD</text>
<rect x="270.40" y="184.80" width="16.60" height="6.30" fill="#ffffff" stroke="#333" stroke-width="0.5"/>
<text class="sf" x="278.7" y="189.3" font-size="4.2" text-anchor="middle">PelE</text>
<rect x="287.90" y="184.80" width="16.60" height="6.30" fill="#ffffff" stroke="#333" stroke-width="0.5"/>
<text class="sf" x="296.2" y="189.3" font-size="4.2" text-anchor="middle">PelF</text>
<rect x="304.90" y="181.40" width="17.00" height="6.30" fill="#ffffff" stroke="#333" stroke-width="0.5"/>
<text class="sf" x="313.4" y="185.9" font-size="4.2" text-anchor="middle">PelG</text>
<text class="sf" x="271.9" y="196.3" font-size="4.35">Pel polysaccharide biosynthesis</text>
<rect x="252.90" y="200.10" width="16.60" height="6.00" fill="#93efab" stroke="#10d040" stroke-width="0.8"/>
<text class="sf" x="261.2" y="204.45" font-size="4.2" text-anchor="middle">Alg44</text>
<text class="sf" x="272.5" y="204.7" font-size="4.3">Alginate biosynthesis</text>
<rect x="252.90" y="210.90" width="16.60" height="5.70" fill="#ffffff" stroke="#333" stroke-width="0.5"/>
<text class="sf" x="261.2" y="215.1" font-size="4.2" text-anchor="middle">PimX</text>
<rect x="252.90" y="217.80" width="16.60" height="5.80" fill="#93efab" stroke="#f04020" stroke-width="0.9"/>
<text class="sf" x="261.2" y="222.05" font-size="4.2" text-anchor="middle">PimW</text>
<text class="sf" x="272.5" y="219.1" font-size="4.3">Type IV pili</text>
<text class="sf" x="255.5" y="233.1" font-size="4.3">Cup fimbriae biosynthesis</text>
<circle cx="181.9" cy="147.3" r="1.5" fill="#fff" stroke="#111" stroke-width="0.5"/>
<circle cx="181.9" cy="187.8" r="1.5" fill="#fff" stroke="#111" stroke-width="0.5"/>
<circle cx="181.9" cy="228.1" r="1.5" fill="#fff" stroke="#111" stroke-width="0.5"/>
<path d="M346.6,138.0 L346.6,197.2" stroke="#3a3a3a" stroke-width="0.8" fill="none" stroke-dasharray="2.3 1" marker-end="url(#ah)"/>
<text class="sf" x="346.8" y="209.7" font-size="4.3" text-anchor="middle">Biofilm</text>
</g></svg>
<rect x="22.50" y="241.90" width="333.10" height="98.20" fill="none" stroke="#6aa3d0" stroke-width="1.0"/>
</g>
<g id="panel-f">
<text class="sf" x="368.7" y="148.3" font-size="10.9">(f)</text>
<line x1="399.6" y1="173.4" x2="399.6" y2="280.09999999999997" stroke="#1a1a1a" stroke-width="0.85"/>
<line x1="399.6" y1="279.7" x2="532.2" y2="279.7" stroke="#1a1a1a" stroke-width="0.85"/>
<line x1="397.20000000000005" y1="279.7" x2="399.6" y2="279.7" stroke="#111" stroke-width="0.9"/>
<text class="ss" x="396.20000000000005" y="281.9" font-size="6.1" text-anchor="end" font-weight="bold">0.5</text>
<line x1="398.40000000000003" y1="272.14" x2="399.6" y2="272.14" stroke="#222" stroke-width="0.5"/>
<line x1="397.20000000000005" y1="264.57" x2="399.6" y2="264.57" stroke="#111" stroke-width="0.9"/>
<text class="ss" x="396.20000000000005" y="266.77" font-size="6.1" text-anchor="end" font-weight="bold">1.0</text>
<line x1="398.40000000000003" y1="257.01" x2="399.6" y2="257.01" stroke="#222" stroke-width="0.5"/>
<line x1="397.20000000000005" y1="249.44" x2="399.6" y2="249.44" stroke="#111" stroke-width="0.9"/>
<text class="ss" x="396.20000000000005" y="251.64" font-size="6.1" text-anchor="end" font-weight="bold">1.5</text>
<line x1="398.40000000000003" y1="241.88" x2="399.6" y2="241.88" stroke="#222" stroke-width="0.5"/>
<line x1="397.20000000000005" y1="234.31" x2="399.6" y2="234.31" stroke="#111" stroke-width="0.9"/>
<text class="ss" x="396.20000000000005" y="236.51" font-size="6.1" text-anchor="end" font-weight="bold">2.0</text>
<line x1="398.40000000000003" y1="226.75" x2="399.6" y2="226.75" stroke="#222" stroke-width="0.5"/>
<line x1="397.20000000000005" y1="219.19" x2="399.6" y2="219.19" stroke="#111" stroke-width="0.9"/>
<text class="ss" x="396.20000000000005" y="221.39" font-size="6.1" text-anchor="end" font-weight="bold">2.5</text>
<line x1="398.40000000000003" y1="211.63" x2="399.6" y2="211.63" stroke="#222" stroke-width="0.5"/>
<line x1="397.20000000000005" y1="204.06" x2="399.6" y2="204.06" stroke="#111" stroke-width="0.9"/>
<text class="ss" x="396.20000000000005" y="206.26" font-size="6.1" text-anchor="end" font-weight="bold">3.0</text>
<line x1="398.40000000000003" y1="196.5" x2="399.6" y2="196.5" stroke="#222" stroke-width="0.5"/>
<line x1="397.20000000000005" y1="188.93" x2="399.6" y2="188.93" stroke="#111" stroke-width="0.9"/>
<text class="ss" x="396.20000000000005" y="191.13" font-size="6.1" text-anchor="end" font-weight="bold">3.5</text>
<line x1="398.40000000000003" y1="181.37" x2="399.6" y2="181.37" stroke="#222" stroke-width="0.5"/>
<line x1="397.20000000000005" y1="173.8" x2="399.6" y2="173.8" stroke="#111" stroke-width="0.9"/>
<text class="ss" x="396.20000000000005" y="176.0" font-size="6.1" text-anchor="end" font-weight="bold">4.0</text>
<line x1="421.3" y1="279.7" x2="421.3" y2="281.4" stroke="#222" stroke-width="0.7"/>
<line x1="465.4" y1="279.7" x2="465.4" y2="281.4" stroke="#222" stroke-width="0.7"/>
<line x1="509.5" y1="279.7" x2="509.5" y2="281.4" stroke="#222" stroke-width="0.7"/>
<line x1="426.25" y1="210.0" x2="426.25" y2="219.0" stroke="#222" stroke-width="0.6"/>
<line x1="420.65" y1="219.0" x2="431.85" y2="219.0" stroke="#333" stroke-width="0.7"/>
<rect x="414.60" y="210.00" width="23.30" height="5.80" fill="#0f8484" stroke="#2a2a2a" stroke-width="0.5"/>
<line x1="415.0" y1="212.6" x2="437.5" y2="212.6" stroke="#1c1c1c" stroke-width="0.45"/>
<rect x="425.65" y="212.40" width="1.20" height="1.20" fill="#0a1a1a" stroke="none" stroke-width="1"/>
<line x1="461.1" y1="209.6" x2="461.1" y2="216.5" stroke="#222" stroke-width="0.6"/>
<line x1="455.5" y1="216.5" x2="466.70000000000005" y2="216.5" stroke="#333" stroke-width="0.7"/>
<rect x="449.50" y="209.60" width="23.20" height="5.00" fill="#0a0a0a" stroke="#000" stroke-width="0.5"/>
<line x1="450.0" y1="211.2" x2="472.2" y2="211.2" stroke="#e8e8e8" stroke-width="0.55"/>
<rect x="460.50" y="211.70" width="1.20" height="1.20" fill="#fff" stroke="none" stroke-width="1"/>
<line x1="509.85" y1="240.5" x2="509.85" y2="258.5" stroke="#222" stroke-width="0.6"/>
<line x1="504.25" y1="258.5" x2="515.45" y2="258.5" stroke="#333" stroke-width="0.7"/>
<line x1="504.25" y1="240.5" x2="515.45" y2="240.5" stroke="#333" stroke-width="0.7"/>
<rect x="498.10" y="241.70" width="23.50" height="8.90" fill="#3a3a3a" stroke="#2a2a2a" stroke-width="0.5"/>
<line x1="498.5" y1="246.0" x2="521.2" y2="246.0" stroke="#1c1c1c" stroke-width="0.45"/>
<rect x="509.25" y="245.60" width="1.20" height="1.20" fill="#0a1a1a" stroke="none" stroke-width="1"/>
<text class="ss" x="426.4" y="205.5" font-size="7.0" text-anchor="middle" font-weight="bold" fill="#111">a</text>
<text class="ss" x="461.2" y="207.2" font-size="7.0" text-anchor="middle" font-weight="bold" fill="#111">a</text>
<text class="ss" x="509.9" y="237.3" font-size="7.0" text-anchor="middle" font-weight="bold" fill="#111">b</text>
<text class="ss" x="419.8" y="291.4" font-size="7.8" text-anchor="middle" fill="#111">WT</text>
<text class="ss" x="462.2" y="291.4" font-size="7.7" text-anchor="middle" fill="#111">&#916;13375</text>
<text class="ss" x="507.1" y="291.4" font-size="7.7" text-anchor="middle" fill="#111">OE13375</text>
<text class="ss" x="385.3" y="226.5" font-size="6.5" text-anchor="middle" font-weight="bold" fill="#111" transform="rotate(-90 385.3 226.5)">Swimming(Diameter/cm)</text>
</g>
<g id="panel-g">
<text class="sf" x="4.8" y="357.6" font-size="10.9">(g)</text>
<line x1="48.3" y1="371.6" x2="48.3" y2="464.4" stroke="#111" stroke-width="1.4"/>
<line x1="47.599999999999994" y1="463.7" x2="187.5" y2="463.7" stroke="#111" stroke-width="1.4"/>
<line x1="44.3" y1="463.7" x2="48.3" y2="463.7" stroke="#111" stroke-width="1.15"/>
<text class="ss" x="42.699999999999996" y="466.2" font-size="7.0" text-anchor="end" font-weight="bold">0.0</text>
<line x1="44.3" y1="440.8" x2="48.3" y2="440.8" stroke="#111" stroke-width="1.15"/>
<text class="ss" x="42.699999999999996" y="443.3" font-size="7.0" text-anchor="end" font-weight="bold">0.5</text>
<line x1="44.3" y1="417.9" x2="48.3" y2="417.9" stroke="#111" stroke-width="1.15"/>
<text class="ss" x="42.699999999999996" y="420.4" font-size="7.0" text-anchor="end" font-weight="bold">1.0</text>
<line x1="44.3" y1="395.0" x2="48.3" y2="395.0" stroke="#111" stroke-width="1.15"/>
<text class="ss" x="42.699999999999996" y="397.5" font-size="7.0" text-anchor="end" font-weight="bold">1.5</text>
<line x1="44.3" y1="372.1" x2="48.3" y2="372.1" stroke="#111" stroke-width="1.15"/>
<text class="ss" x="42.699999999999996" y="374.6" font-size="7.0" text-anchor="end" font-weight="bold">2.0</text>
<line x1="55.3" y1="463.7" x2="55.3" y2="467.59999999999997" stroke="#111" stroke-width="1.15"/>
<text class="ss" x="55.3" y="475.0" font-size="7.0" text-anchor="middle" font-weight="bold">0</text>
<line x1="70.69" y1="463.7" x2="70.69" y2="467.59999999999997" stroke="#111" stroke-width="1.15"/>
<text class="ss" x="70.69" y="475.0" font-size="7.0" text-anchor="middle" font-weight="bold">3</text>
<line x1="86.08" y1="463.7" x2="86.08" y2="467.59999999999997" stroke="#111" stroke-width="1.15"/>
<text class="ss" x="86.08" y="475.0" font-size="7.0" text-anchor="middle" font-weight="bold">6</text>
<line x1="101.46" y1="463.7" x2="101.46" y2="467.59999999999997" stroke="#111" stroke-width="1.15"/>
<text class="ss" x="101.46" y="475.0" font-size="7.0" text-anchor="middle" font-weight="bold">9</text>
<line x1="116.85" y1="463.7" x2="116.85" y2="467.59999999999997" stroke="#111" stroke-width="1.15"/>
<text class="ss" x="116.85" y="475.0" font-size="7.0" text-anchor="middle" font-weight="bold">12</text>
<line x1="132.24" y1="463.7" x2="132.24" y2="467.59999999999997" stroke="#111" stroke-width="1.15"/>
<text class="ss" x="132.24" y="475.0" font-size="7.0" text-anchor="middle" font-weight="bold">15</text>
<line x1="147.62" y1="463.7" x2="147.62" y2="467.59999999999997" stroke="#111" stroke-width="1.15"/>
<text class="ss" x="147.62" y="475.0" font-size="7.0" text-anchor="middle" font-weight="bold">18</text>
<line x1="163.01" y1="463.7" x2="163.01" y2="467.59999999999997" stroke="#111" stroke-width="1.15"/>
<text class="ss" x="163.01" y="475.0" font-size="7.0" text-anchor="middle" font-weight="bold">21</text>
<line x1="178.4" y1="463.7" x2="178.4" y2="467.59999999999997" stroke="#111" stroke-width="1.15"/>
<text class="ss" x="178.4" y="475.0" font-size="7.0" text-anchor="middle" font-weight="bold">24</text>
<text class="ss" x="115.5" y="485.9" font-size="7.7" text-anchor="middle" font-weight="bold">Time(hr)</text>
<text class="ss" x="27.8" y="417.5" font-size="7.7" font-weight="bold" text-anchor="middle" transform="rotate(-90 27.8 417.5)">OD<tspan font-size="5.2" dy="1.5">600</tspan><tspan dy="-1.5"> value</tspan></text>
<polyline points="55.3,463.24 70.69,461.41 86.08,455.91 101.46,435.3 116.85,416.98 132.24,398.66 147.62,391.79 163.01,392.71 178.4,394.08" fill="none" stroke="#4a4a4a" stroke-width="0.9" stroke-linejoin="round"/>
<circle cx="55.3" cy="463.24" r="0.7" fill="#4a4a4a"/>
<circle cx="70.69" cy="461.41" r="0.7" fill="#4a4a4a"/>
<circle cx="86.08" cy="455.91" r="0.7" fill="#4a4a4a"/>
<line x1="101.46" y1="434.39" x2="101.46" y2="436.22" stroke="#4a4a4a" stroke-width="0.75"/>
<line x1="100.46" y1="434.39" x2="102.46" y2="434.39" stroke="#4a4a4a" stroke-width="0.75"/>
<line x1="100.46" y1="436.22" x2="102.46" y2="436.22" stroke="#4a4a4a" stroke-width="0.75"/>
<circle cx="101.46" cy="435.3" r="0.7" fill="#4a4a4a"/>
<line x1="116.85" y1="415.61" x2="116.85" y2="418.36" stroke="#4a4a4a" stroke-width="0.75"/>
<line x1="115.85" y1="415.61" x2="117.85" y2="415.61" stroke="#4a4a4a" stroke-width="0.75"/>
<line x1="115.85" y1="418.36" x2="117.85" y2="418.36" stroke="#4a4a4a" stroke-width="0.75"/>
<circle cx="116.85" cy="416.98" r="0.7" fill="#4a4a4a"/>
<line x1="132.24" y1="397.98" x2="132.24" y2="399.35" stroke="#4a4a4a" stroke-width="0.75"/>
<line x1="131.24" y1="397.98" x2="133.24" y2="397.98" stroke="#4a4a4a" stroke-width="0.75"/>
<line x1="131.24" y1="399.35" x2="133.24" y2="399.35" stroke="#4a4a4a" stroke-width="0.75"/>
<circle cx="132.24" cy="398.66" r="0.7" fill="#4a4a4a"/>
<circle cx="147.62" cy="391.79" r="0.7" fill="#4a4a4a"/>
<line x1="163.01" y1="391.79" x2="163.01" y2="393.63" stroke="#4a4a4a" stroke-width="0.75"/>
<line x1="162.01" y1="391.79" x2="164.01" y2="391.79" stroke="#4a4a4a" stroke-width="0.75"/>
<line x1="162.01" y1="393.63" x2="164.01" y2="393.63" stroke="#4a4a4a" stroke-width="0.75"/>
<circle cx="163.01" cy="392.71" r="0.7" fill="#4a4a4a"/>
<line x1="178.4" y1="393.17" x2="178.4" y2="395.0" stroke="#4a4a4a" stroke-width="0.75"/>
<line x1="177.4" y1="393.17" x2="179.4" y2="393.17" stroke="#4a4a4a" stroke-width="0.75"/>
<line x1="177.4" y1="395.0" x2="179.4" y2="395.0" stroke="#4a4a4a" stroke-width="0.75"/>
<circle cx="178.4" cy="394.08" r="0.7" fill="#4a4a4a"/>
<line x1="56.5" y1="376.4" x2="66.2" y2="376.4" stroke="#4a4a4a" stroke-width="0.8"/>
<text class="ss" x="72.2" y="378.1" font-size="4.8" font-weight="bold" fill="#222">S26</text>
<polyline points="55.3,463.24 70.69,461.87 86.08,457.29 101.46,443.55 116.85,422.94 132.24,404.16 147.62,391.79 163.01,391.79 178.4,394.08" fill="none" stroke="#2eb34c" stroke-width="0.9" stroke-linejoin="round"/>
<circle cx="55.3" cy="463.24" r="0.7" fill="#2eb34c"/>
<circle cx="70.69" cy="461.87" r="0.7" fill="#2eb34c"/>
<circle cx="86.08" cy="457.29" r="0.7" fill="#2eb34c"/>
<line x1="101.46" y1="442.63" x2="101.46" y2="444.46" stroke="#2eb34c" stroke-width="0.75"/>
<line x1="100.46" y1="442.63" x2="102.46" y2="442.63" stroke="#2eb34c" stroke-width="0.75"/>
<line x1="100.46" y1="444.46" x2="102.46" y2="444.46" stroke="#2eb34c" stroke-width="0.75"/>
<circle cx="101.46" cy="443.55" r="0.7" fill="#2eb34c"/>
<line x1="116.85" y1="421.11" x2="116.85" y2="424.77" stroke="#2eb34c" stroke-width="0.75"/>
<line x1="115.85" y1="421.11" x2="117.85" y2="421.11" stroke="#2eb34c" stroke-width="0.75"/>
<line x1="115.85" y1="424.77" x2="117.85" y2="424.77" stroke="#2eb34c" stroke-width="0.75"/>
<circle cx="116.85" cy="422.94" r="0.7" fill="#2eb34c"/>
<line x1="132.24" y1="403.24" x2="132.24" y2="405.08" stroke="#2eb34c" stroke-width="0.75"/>
<line x1="131.24" y1="403.24" x2="133.24" y2="403.24" stroke="#2eb34c" stroke-width="0.75"/>
<line x1="131.24" y1="405.08" x2="133.24" y2="405.08" stroke="#2eb34c" stroke-width="0.75"/>
<circle cx="132.24" cy="404.16" r="0.7" fill="#2eb34c"/>
<circle cx="147.62" cy="391.79" r="0.7" fill="#2eb34c"/>
<line x1="163.01" y1="390.65" x2="163.01" y2="392.94" stroke="#2eb34c" stroke-width="0.75"/>
<line x1="162.01" y1="390.65" x2="164.01" y2="390.65" stroke="#2eb34c" stroke-width="0.75"/>
<line x1="162.01" y1="392.94" x2="164.01" y2="392.94" stroke="#2eb34c" stroke-width="0.75"/>
<circle cx="163.01" cy="391.79" r="0.7" fill="#2eb34c"/>
<line x1="178.4" y1="392.94" x2="178.4" y2="395.23" stroke="#2eb34c" stroke-width="0.75"/>
<line x1="177.4" y1="392.94" x2="179.4" y2="392.94" stroke="#2eb34c" stroke-width="0.75"/>
<line x1="177.4" y1="395.23" x2="179.4" y2="395.23" stroke="#2eb34c" stroke-width="0.75"/>
<circle cx="178.4" cy="394.08" r="0.7" fill="#2eb34c"/>
<line x1="56.5" y1="382.6" x2="66.2" y2="382.6" stroke="#2eb34c" stroke-width="0.8"/>
<text class="ss" x="72.2" y="384.3" font-size="4.8" font-weight="bold" fill="#222">&#916;13375</text>
<polyline points="55.3,463.24 70.69,461.87 86.08,458.66 101.46,454.08 116.85,446.75 132.24,434.39 147.62,414.69 163.01,402.79 178.4,395.0" fill="none" stroke="#4f5cff" stroke-width="0.9" stroke-linejoin="round"/>
<circle cx="55.3" cy="463.24" r="0.7" fill="#4f5cff"/>
<circle cx="70.69" cy="461.87" r="0.7" fill="#4f5cff"/>
<circle cx="86.08" cy="458.66" r="0.7" fill="#4f5cff"/>
<line x1="101.46" y1="453.17" x2="101.46" y2="455.0" stroke="#4f5cff" stroke-width="0.75"/>
<line x1="100.46" y1="453.17" x2="102.46" y2="453.17" stroke="#4f5cff" stroke-width="0.75"/>
<line x1="100.46" y1="455.0" x2="102.46" y2="455.0" stroke="#4f5cff" stroke-width="0.75"/>
<circle cx="101.46" cy="454.08" r="0.7" fill="#4f5cff"/>
<line x1="116.85" y1="444.92" x2="116.85" y2="448.59" stroke="#4f5cff" stroke-width="0.75"/>
<line x1="115.85" y1="444.92" x2="117.85" y2="444.92" stroke="#4f5cff" stroke-width="0.75"/>
<line x1="115.85" y1="448.59" x2="117.85" y2="448.59" stroke="#4f5cff" stroke-width="0.75"/>
<circle cx="116.85" cy="446.75" r="0.7" fill="#4f5cff"/>
<line x1="132.24" y1="431.64" x2="132.24" y2="437.14" stroke="#4f5cff" stroke-width="0.75"/>
<line x1="131.24" y1="431.64" x2="133.24" y2="431.64" stroke="#4f5cff" stroke-width="0.75"/>
<line x1="131.24" y1="437.14" x2="133.24" y2="437.14" stroke="#4f5cff" stroke-width="0.75"/>
<circle cx="132.24" cy="434.39" r="0.7" fill="#4f5cff"/>
<line x1="147.62" y1="408.74" x2="147.62" y2="420.65" stroke="#4f5cff" stroke-width="0.75"/>
<line x1="146.62" y1="408.74" x2="148.62" y2="408.74" stroke="#4f5cff" stroke-width="0.75"/>
<line x1="146.62" y1="420.65" x2="148.62" y2="420.65" stroke="#4f5cff" stroke-width="0.75"/>
<circle cx="147.62" cy="414.69" r="0.7" fill="#4f5cff"/>
<line x1="163.01" y1="397.75" x2="163.01" y2="407.82" stroke="#4f5cff" stroke-width="0.75"/>
<line x1="162.01" y1="397.75" x2="164.01" y2="397.75" stroke="#4f5cff" stroke-width="0.75"/>
<line x1="162.01" y1="407.82" x2="164.01" y2="407.82" stroke="#4f5cff" stroke-width="0.75"/>
<circle cx="163.01" cy="402.79" r="0.7" fill="#4f5cff"/>
<line x1="178.4" y1="393.63" x2="178.4" y2="396.37" stroke="#4f5cff" stroke-width="0.75"/>
<line x1="177.4" y1="393.63" x2="179.4" y2="393.63" stroke="#4f5cff" stroke-width="0.75"/>
<line x1="177.4" y1="396.37" x2="179.4" y2="396.37" stroke="#4f5cff" stroke-width="0.75"/>
<circle cx="178.4" cy="395.0" r="0.7" fill="#4f5cff"/>
<line x1="56.5" y1="389.2" x2="66.2" y2="389.2" stroke="#4f5cff" stroke-width="0.8"/>
<text class="ss" x="72.2" y="390.9" font-size="4.8" font-weight="bold" fill="#222">OE13375</text>
</g>
<g id="panel-h">
<text class="sf" x="200.0" y="358.2" font-size="10.9">(h)</text>
<line x1="244.4" y1="350.5" x2="244.4" y2="464.3" stroke="#444" stroke-width="0.6"/>
<line x1="244.4" y1="464.3" x2="318.7" y2="464.3" stroke="#444" stroke-width="0.6"/>
<line x1="242.4" y1="464.3" x2="244.4" y2="464.3" stroke="#444" stroke-width="0.5"/>
<text class="ss" x="241.4" y="466.1" font-size="5.3" text-anchor="end" fill="#111">0</text>
<line x1="243.3" y1="455.54" x2="244.4" y2="455.54" stroke="#444" stroke-width="0.4"/>
<line x1="242.4" y1="446.77" x2="244.4" y2="446.77" stroke="#444" stroke-width="0.5"/>
<text class="ss" x="241.4" y="448.57" font-size="5.3" text-anchor="end" fill="#111">1</text>
<line x1="243.3" y1="438.0" x2="244.4" y2="438.0" stroke="#444" stroke-width="0.4"/>
<line x1="242.4" y1="429.24" x2="244.4" y2="429.24" stroke="#444" stroke-width="0.5"/>
<text class="ss" x="241.4" y="431.04" font-size="5.3" text-anchor="end" fill="#111">2</text>
<line x1="243.3" y1="420.48" x2="244.4" y2="420.48" stroke="#444" stroke-width="0.4"/>
<line x1="242.4" y1="411.71" x2="244.4" y2="411.71" stroke="#444" stroke-width="0.5"/>
<text class="ss" x="241.4" y="413.51" font-size="5.3" text-anchor="end" fill="#111">3</text>
<line x1="243.3" y1="402.94" x2="244.4" y2="402.94" stroke="#444" stroke-width="0.4"/>
<line x1="242.4" y1="394.18" x2="244.4" y2="394.18" stroke="#444" stroke-width="0.5"/>
<text class="ss" x="241.4" y="395.98" font-size="5.3" text-anchor="end" fill="#111">4</text>
<line x1="243.3" y1="385.42" x2="244.4" y2="385.42" stroke="#444" stroke-width="0.4"/>
<line x1="242.4" y1="376.65" x2="244.4" y2="376.65" stroke="#444" stroke-width="0.5"/>
<text class="ss" x="241.4" y="378.45" font-size="5.3" text-anchor="end" fill="#111">5</text>
<line x1="243.3" y1="367.88" x2="244.4" y2="367.88" stroke="#444" stroke-width="0.4"/>
<line x1="242.4" y1="359.12" x2="244.4" y2="359.12" stroke="#444" stroke-width="0.5"/>
<text class="ss" x="241.4" y="360.92" font-size="5.3" text-anchor="end" fill="#111">6</text>
<rect x="247.60" y="392.00" width="18.80" height="72.30" fill="#c9c9c9" stroke="#666" stroke-width="0.6"/>
<line x1="257.0" y1="369.3" x2="257.0" y2="414.3" stroke="#555" stroke-width="0.45"/>
<line x1="256.1" y1="369.3" x2="257.9" y2="369.3" stroke="#555" stroke-width="0.45"/>
<line x1="256.1" y1="414.3" x2="257.9" y2="414.3" stroke="#555" stroke-width="0.45"/>
<line x1="257.0" y1="464.3" x2="257.0" y2="466.0" stroke="#444" stroke-width="0.5"/>
<rect x="271.50" y="374.10" width="19.10" height="90.20" fill="#c9c9c9" stroke="#666" stroke-width="0.6"/>
<line x1="281.05" y1="365.5" x2="281.05" y2="383.0" stroke="#555" stroke-width="0.45"/>
<line x1="280.15000000000003" y1="365.5" x2="281.95" y2="365.5" stroke="#555" stroke-width="0.45"/>
<line x1="280.15000000000003" y1="383.0" x2="281.95" y2="383.0" stroke="#555" stroke-width="0.45"/>
<line x1="281.05" y1="464.3" x2="281.05" y2="466.0" stroke="#444" stroke-width="0.5"/>
<rect x="295.40" y="381.40" width="19.40" height="82.90" fill="#c9c9c9" stroke="#666" stroke-width="0.6"/>
<line x1="305.1" y1="360.7" x2="305.1" y2="402.2" stroke="#555" stroke-width="0.45"/>
<line x1="304.20000000000005" y1="360.7" x2="306.0" y2="360.7" stroke="#555" stroke-width="0.45"/>
<line x1="304.20000000000005" y1="402.2" x2="306.0" y2="402.2" stroke="#555" stroke-width="0.45"/>
<line x1="305.1" y1="464.3" x2="305.1" y2="466.0" stroke="#444" stroke-width="0.5"/>
<line x1="269" y1="464.3" x2="269" y2="465.40000000000003" stroke="#444" stroke-width="0.4"/>
<line x1="293" y1="464.3" x2="293" y2="465.40000000000003" stroke="#444" stroke-width="0.4"/>
<line x1="317" y1="464.3" x2="317" y2="465.40000000000003" stroke="#444" stroke-width="0.4"/>
<text class="ss" x="226.0" y="407.8" font-size="6.9" text-anchor="middle" fill="#222" transform="rotate(-90 226.0 407.8)">Average disease severity</text>
<text class="ss" x="235.2" y="407.8" font-size="6.9" text-anchor="middle" fill="#222" transform="rotate(-90 235.2 407.8)">(% of diseased area)</text>
<text class="ss" x="251.2" y="473.8" font-size="7.4" fill="#222" transform="rotate(43 251.2 473.8)">G1(WT)</text>
<text class="ss" x="274.3" y="473.8" font-size="7.4" fill="#222" transform="rotate(43 274.3 473.8)">&#916;13375</text>
<text class="ss" x="299.0" y="473.8" font-size="7.4" fill="#222" transform="rotate(43 299.0 473.8)">OE13375</text>
</g>
<g id="panel-i">
<text class="sf" x="345.9" y="362.4" font-size="10.9">(i)</text>
<line x1="400.9" y1="362.5" x2="400.9" y2="473.5" stroke="#333" stroke-width="0.75"/>
<line x1="400.9" y1="473.5" x2="538.4" y2="473.5" stroke="#333" stroke-width="0.75"/>
<line x1="398.7" y1="473.5" x2="400.9" y2="473.5" stroke="#333" stroke-width="0.5"/>
<text class="ss" x="396.7" y="476.0" font-size="7.0" text-anchor="end" fill="#1a1a1a">0.0</text>
<line x1="399.7" y1="463.39" x2="400.9" y2="463.39" stroke="#333" stroke-width="0.4"/>
<line x1="398.7" y1="453.28" x2="400.9" y2="453.28" stroke="#333" stroke-width="0.5"/>
<text class="ss" x="396.7" y="455.78" font-size="7.0" text-anchor="end" fill="#1a1a1a">0.2</text>
<line x1="399.7" y1="443.17" x2="400.9" y2="443.17" stroke="#333" stroke-width="0.4"/>
<line x1="398.7" y1="433.06" x2="400.9" y2="433.06" stroke="#333" stroke-width="0.5"/>
<text class="ss" x="396.7" y="435.56" font-size="7.0" text-anchor="end" fill="#1a1a1a">0.4</text>
<line x1="399.7" y1="422.95" x2="400.9" y2="422.95" stroke="#333" stroke-width="0.4"/>
<line x1="398.7" y1="412.84" x2="400.9" y2="412.84" stroke="#333" stroke-width="0.5"/>
<text class="ss" x="396.7" y="415.34" font-size="7.0" text-anchor="end" fill="#1a1a1a">0.6</text>
<line x1="399.7" y1="402.73" x2="400.9" y2="402.73" stroke="#333" stroke-width="0.4"/>
<line x1="398.7" y1="392.62" x2="400.9" y2="392.62" stroke="#333" stroke-width="0.5"/>
<text class="ss" x="396.7" y="395.12" font-size="7.0" text-anchor="end" fill="#1a1a1a">0.8</text>
<line x1="399.7" y1="382.51" x2="400.9" y2="382.51" stroke="#333" stroke-width="0.4"/>
<line x1="398.7" y1="372.4" x2="400.9" y2="372.4" stroke="#333" stroke-width="0.5"/>
<text class="ss" x="396.7" y="374.9" font-size="7.0" text-anchor="end" fill="#1a1a1a">1.0</text>
<rect x="404.50" y="411.30" width="19.00" height="62.20" fill="#fff" stroke="#555" stroke-width="0.6"/>
<line x1="414.0" y1="393.5" x2="414.0" y2="429.1" stroke="#5a5a5a" stroke-width="0.5"/>
<line x1="413.1" y1="393.5" x2="414.9" y2="393.5" stroke="#5a5a5a" stroke-width="0.5"/>
<line x1="413.1" y1="429.1" x2="414.9" y2="429.1" stroke="#5a5a5a" stroke-width="0.5"/>
<rect x="423.50" y="418.90" width="18.10" height="54.60" fill="#c9c9c9" stroke="#555" stroke-width="0.6"/>
<line x1="432.55" y1="399.3" x2="432.55" y2="437.5" stroke="#5a5a5a" stroke-width="0.5"/>
<line x1="431.65000000000003" y1="399.3" x2="433.45" y2="399.3" stroke="#5a5a5a" stroke-width="0.5"/>
<line x1="431.65000000000003" y1="437.5" x2="433.45" y2="437.5" stroke="#5a5a5a" stroke-width="0.5"/>
<rect x="450.70" y="395.30" width="18.60" height="78.20" fill="#fff" stroke="#555" stroke-width="0.6"/>
<line x1="460.0" y1="374.5" x2="460.0" y2="415.3" stroke="#5a5a5a" stroke-width="0.5"/>
<line x1="459.1" y1="374.5" x2="460.9" y2="374.5" stroke="#5a5a5a" stroke-width="0.5"/>
<line x1="459.1" y1="415.3" x2="460.9" y2="415.3" stroke="#5a5a5a" stroke-width="0.5"/>
<rect x="469.30" y="404.00" width="18.20" height="69.50" fill="#c9c9c9" stroke="#555" stroke-width="0.6"/>
<line x1="478.4" y1="380.7" x2="478.4" y2="427.3" stroke="#5a5a5a" stroke-width="0.5"/>
<line x1="477.5" y1="380.7" x2="479.29999999999995" y2="380.7" stroke="#5a5a5a" stroke-width="0.5"/>
<line x1="477.5" y1="427.3" x2="479.29999999999995" y2="427.3" stroke="#5a5a5a" stroke-width="0.5"/>
<rect x="496.20" y="399.30" width="18.50" height="74.20" fill="#fff" stroke="#555" stroke-width="0.6"/>
<line x1="505.45" y1="378.9" x2="505.45" y2="420.0" stroke="#5a5a5a" stroke-width="0.5"/>
<line x1="504.55" y1="378.9" x2="506.34999999999997" y2="378.9" stroke="#5a5a5a" stroke-width="0.5"/>
<line x1="504.55" y1="420.0" x2="506.34999999999997" y2="420.0" stroke="#5a5a5a" stroke-width="0.5"/>
<rect x="514.70" y="412.00" width="18.20" height="61.50" fill="#c9c9c9" stroke="#555" stroke-width="0.6"/>
<line x1="523.8" y1="386.5" x2="523.8" y2="437.5" stroke="#5a5a5a" stroke-width="0.5"/>
<line x1="522.9" y1="386.5" x2="524.6999999999999" y2="386.5" stroke="#5a5a5a" stroke-width="0.5"/>
<line x1="522.9" y1="437.5" x2="524.6999999999999" y2="437.5" stroke="#5a5a5a" stroke-width="0.5"/>
<line x1="423.5" y1="473.5" x2="423.5" y2="475.3" stroke="#333" stroke-width="0.5"/>
<line x1="469.3" y1="473.5" x2="469.3" y2="475.3" stroke="#333" stroke-width="0.5"/>
<line x1="514.7" y1="473.5" x2="514.7" y2="475.3" stroke="#333" stroke-width="0.5"/>
<line x1="446.2" y1="473.5" x2="446.2" y2="474.6" stroke="#333" stroke-width="0.4"/>
<line x1="491.9" y1="473.5" x2="491.9" y2="474.6" stroke="#333" stroke-width="0.4"/>
<line x1="538.4" y1="473.5" x2="538.4" y2="474.6" stroke="#333" stroke-width="0.4"/>
<text class="ss" x="422.9" y="480.7" font-size="7.3" text-anchor="middle" fill="#222">G1</text>
<text class="ss" x="469.3" y="480.7" font-size="7.3" text-anchor="middle" fill="#222">&#916;13375</text>
<text class="ss" x="514.5" y="480.7" font-size="7.3" text-anchor="middle" fill="#222">OE13375</text>
<text class="ss" x="384.5" y="418.2" font-size="7.3" text-anchor="middle" fill="#222" transform="rotate(-90 384.5 418.2)">Lesion length / mm</text>
<rect x="487.60" y="359.20" width="49.20" height="16.30" fill="#fff" stroke="#d4d4d4" stroke-width="0.5"/>
<rect x="488.60" y="360.50" width="14.20" height="6.40" fill="#fff" stroke="#777" stroke-width="0.6"/>
<rect x="488.60" y="367.90" width="14.20" height="6.70" fill="#c9c9c9" stroke="#777" stroke-width="0.6"/>
<text class="ss" x="505.4" y="365.9" font-size="6.2" fill="#222">'Hongyang'</text>
<text class="ss" x="505.4" y="373.6" font-size="6.2" fill="#222">'Guichang'</text>
</g>
</svg>
</body></html>
